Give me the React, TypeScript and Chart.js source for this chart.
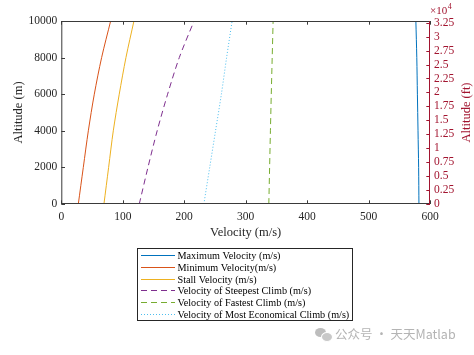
import React, { useEffect, useRef } from "react";
import { Chart, registerables } from "chart.js";

Chart.register(...registerables);

// ---- data ----
const altitudes = [0, 2000, 4000, 6000, 8000, 10000];
const maxVelocity = [582, 581.5, 580.5, 579.5, 578.5, 577];
const minVelocity = [27.7, 35.8, 44, 53.7, 65.6, 80.3];
const stallVelocity = [69.4, 77, 84.6, 94.3, 105.2, 118.2];
const steepestClimb = [126.9, 141, 156, 173, 192, 216];
const fastestClimb = [337.7, 339, 340.3, 341.7, 343.2, 344.7];
const economicalClimb = [232, 241.5, 251, 260.5, 269, 278];

const seriesNames = [
  "Maximum Velocity (m/s)",
  "Minimum Velocity(m/s)",
  "Stall Velocity (m/s)",
  "Velocity of Steepest Climb (m/s)",
  "Velocity of Fastest Climb (m/s)",
  "Velocity of Most Economical Climb (m/s)",
];
const seriesValues = [maxVelocity, minVelocity, stallVelocity, steepestClimb, fastestClimb, economicalClimb];
const seriesColors = ["#0072BD", "#D95319", "#EDB120", "#7E2F8E", "#77AC30", "#4DBEEE"];
const seriesDashes: number[][] = [[], [], [], [6, 4], [6, 4], [1, 2]];

const xTicks = [0, 100, 200, 300, 400, 500, 600];
const yTicksM = [0, 2000, 4000, 6000, 8000, 10000];
const yTicksFt = [0, 2500, 5000, 7500, 10000, 12500, 15000, 17500, 20000, 22500, 25000, 27500, 30000, 32500];
const FT_PER_M = 3.28084;

const SERIF = "'Liberation Serif', 'Times New Roman', serif";
const AXIS_COLOR = "#3a3a3a";
const RIGHT_COLOR = "#A2142F";

const framePlugin = {
  id: "matlabFrame",
  afterDatasetsDraw(chart: any) {
    const { ctx, chartArea, scales } = chart;
    const { left, right, top, bottom } = chartArea;
    const TL = 3.7;
    ctx.save();
    ctx.lineWidth = 1;
    // frame
    ctx.strokeStyle = AXIS_COLOR;
    ctx.beginPath();
    ctx.moveTo(right, top + 0.5);
    ctx.lineTo(left + 0.5, top + 0.5);
    ctx.lineTo(left + 0.5, bottom - 0.5);
    ctx.lineTo(right, bottom - 0.5);
    ctx.stroke();
    // x ticks (bottom & top, inward)
    ctx.beginPath();
    for (const v of xTicks) {
      const x = Math.round(scales.x.getPixelForValue(v)) + 0.5;
      ctx.moveTo(x, bottom);
      ctx.lineTo(x, bottom - TL);
      ctx.moveTo(x, top);
      ctx.lineTo(x, top + TL);
    }
    for (const v of yTicksM) {
      const y = Math.round(scales.y.getPixelForValue(v)) + 0.5;
      ctx.moveTo(left, y);
      ctx.lineTo(left + TL, y);
    }
    ctx.stroke();
    // right axis
    ctx.strokeStyle = RIGHT_COLOR;
    ctx.beginPath();
    ctx.moveTo(right - 0.5, top);
    ctx.lineTo(right - 0.5, bottom);
    for (const v of yTicksFt) {
      const y = Math.round(scales.y2.getPixelForValue(v)) + 0.5;
      ctx.moveTo(right, y);
      ctx.lineTo(right - TL, y);
    }
    ctx.stroke();

    // right title (reads bottom-to-top)
    ctx.fillStyle = RIGHT_COLOR;
    ctx.font = `12.5px ${SERIF}`;
    ctx.textAlign = "center";
    ctx.textBaseline = "middle";
    ctx.save();
    ctx.translate(466.5, (top + bottom) / 2);
    ctx.rotate(-Math.PI / 2);
    ctx.fillText("Altitude (ft)", 0, 0);
    ctx.restore();

    // exponent label
    ctx.textAlign = "left";
    ctx.textBaseline = "alphabetic";
    ctx.font = `11px ${SERIF}`;
    ctx.fillText("\u00d710", 430, 14);
    const w = ctx.measureText("\u00d710").width;
    ctx.font = `8px ${SERIF}`;
    ctx.fillText("4", 430 + w + 0.5, 9);

    // legend box
    const bx = 137.5, by = 248.5, bw = 215, bh = 72;
    ctx.fillStyle = "#ffffff";
    ctx.fillRect(bx, by, bw, bh);
    ctx.strokeStyle = "#262626";
    ctx.strokeRect(bx, by, bw, bh);
    ctx.font = `10.2px ${SERIF}`;
    ctx.textBaseline = "middle";
    ctx.textAlign = "left";
    chart.data.datasets.forEach((ds: any, i: number) => {
      const y = Math.round(255 + i * 11.8) + 0.5;
      ctx.strokeStyle = ds.borderColor;
      ctx.setLineDash(ds.borderDash || []);
      ctx.beginPath();
      ctx.moveTo(141, y);
      ctx.lineTo(175, y);
      ctx.stroke();
      ctx.setLineDash([]);
      ctx.fillStyle = "#000000";
      ctx.fillText(ds.label, 177.5, y + 0.5);
    });
    ctx.restore();
  },
};

export default function App() {
  const ref = useRef<HTMLCanvasElement | null>(null);
  useEffect(() => {
    if (!ref.current) return;
    const datasets = seriesNames.map((name, i) => ({
      label: name,
      data: seriesValues[i].map((v, j) => ({ x: v, y: altitudes[j] })),
      borderColor: seriesColors[i],
      backgroundColor: seriesColors[i],
      borderDash: seriesDashes[i],
      borderWidth: 1,
      showLine: true,
      pointRadius: 0,
      tension: 0.3,
      yAxisID: "y",
    }));
    const chart = new Chart(ref.current, {
      type: "scatter",
      data: { datasets },
      plugins: [framePlugin],
      options: {
        animation: false,
        responsive: false,
        maintainAspectRatio: false,
        layout: { padding: { top: 21, left: 0, right: 0, bottom: 0 } },
        plugins: { legend: { display: false }, tooltip: { enabled: false } },
        scales: {
          x: {
            type: "linear",
            min: 0,
            max: 600,
            afterBuildTicks: (s: any) => { s.ticks = xTicks.map((v) => ({ value: v })); },
            afterFit: (s: any) => { s.height = 151; },
            grid: { display: false, drawTicks: false },
            border: { display: false },
            ticks: {
              padding: 6,
              color: "#262626",
              font: { family: SERIF, size: 11.5 },
              maxRotation: 0,
              autoSkip: false,
              callback: (v: any) => String(v),
            },
            title: {
              display: true,
              text: "Velocity (m/s)",
              color: "#262626",
              font: { family: SERIF, size: 12.5 },
              padding: { top: 0, bottom: 115 },
            },
          },
          y: {
            type: "linear",
            position: "left",
            min: 0,
            max: 10000,
            afterBuildTicks: (s: any) => { s.ticks = yTicksM.map((v) => ({ value: v })); },
            afterFit: (s: any) => { s.width = 61.3; },
            grid: { display: false, drawTicks: false },
            border: { display: false },
            ticks: {
              padding: 4,
              color: "#262626",
              font: { family: SERIF, size: 11.5 },
              autoSkip: false,
              callback: (v: any) => String(v),
            },
            title: {
              display: true,
              text: "Altitude (m)",
              color: "#262626",
              font: { family: SERIF, size: 12.5 },
              padding: { top: 11.5, bottom: 0 },
            },
          },
          y2: {
            type: "linear",
            position: "right",
            min: 0,
            max: 10000 * FT_PER_M,
            afterBuildTicks: (s: any) => { s.ticks = yTicksFt.map((v) => ({ value: v })); },
            afterFit: (s: any) => { s.width = 44; },
            grid: { display: false, drawTicks: false },
            border: { display: false },
            ticks: {
              padding: 4,
              color: RIGHT_COLOR,
              font: { family: SERIF, size: 11.5 },
              autoSkip: false,
              callback: (v: any) => String(Number(v) / 10000),
            },
          },
        },
      },
    });
    return () => chart.destroy();
  }, []);

  return (
    <div style={{ position: "absolute", left: 0, top: 0, width: 474, height: 355, background: "#fff" }}>
      <canvas ref={ref} width={474} height={355} style={{ width: 474, height: 355, display: "block" }} />
      <div
        style={{
          position: "absolute",
          left: 315,
          top: 326,
          display: "flex",
          alignItems: "center",
          color: "#b4b4b4",
          fontFamily: "'Noto Sans CJK SC', 'Noto Sans', sans-serif",
          fontSize: 12.5,
          lineHeight: "16px",
          whiteSpace: "nowrap",
        }}
      >
        <span style={{ position: "relative", width: 17, height: 13, marginRight: 3, display: "inline-block" }}>
          <span style={{ position: "absolute", left: 0, top: 0, width: 11, height: 9, borderRadius: "50%", background: "#bdbdbd" }} />
          <span style={{ position: "absolute", left: 6, top: 4, width: 10, height: 8, borderRadius: "50%", background: "#c8c8c8", border: "1px solid #fff" }} />
        </span>
        公众号 · 天天Matlab
      </div>
    </div>
  );
}
